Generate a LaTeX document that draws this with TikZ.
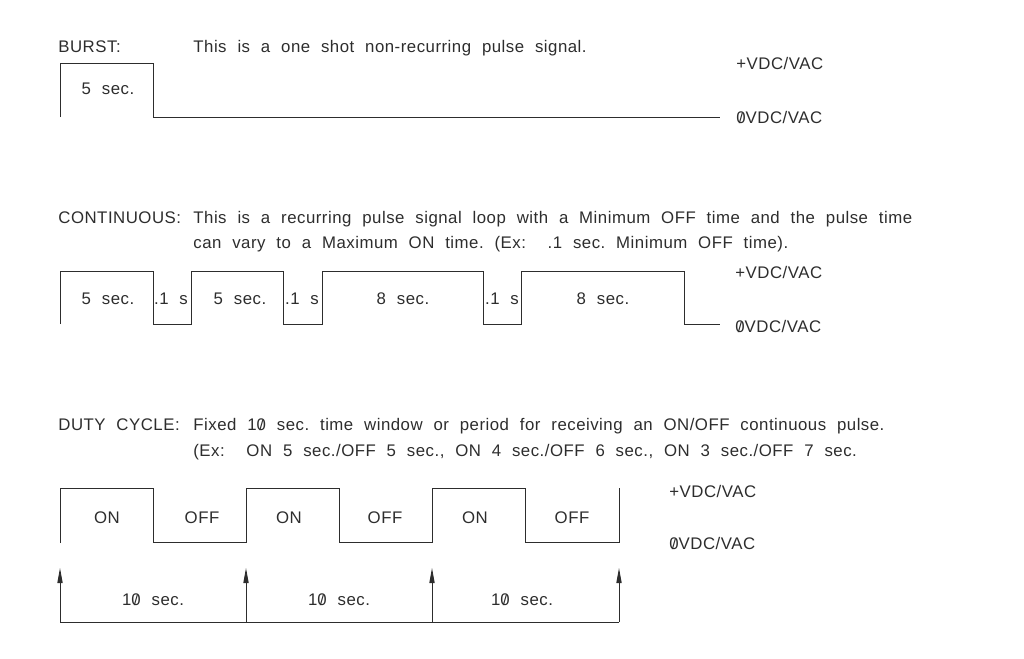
\documentclass[tikz,border=0pt]{standalone}
\usepackage{fontspec}
\setmainfont{Liberation Sans}[LetterSpace=3, WordSpace=2.1]
\usepackage{xcolor}
\usepackage{tikz}
\usetikzlibrary{arrows.meta}
\definecolor{ink}{RGB}{45, 45, 45}
\newcommand{\zr}{\ooalign{0\cr\hidewidth\scalebox{0.9}[0.85]{/}\hidewidth\cr}}
\frenchspacing

\begin{document}
\begin{tikzpicture}[x=0.5pt, y=-0.5pt, >={Triangle[length=7.5pt, width=2.6pt]},
    every node/.style={ink, font=\fontsize{8.4}{9}\selectfont, inner sep=0pt, text height=6pt, text depth=0pt},
    txt/.style={anchor=west},
    wave/.style={ink, line width=0.45pt}]
  \useasboundingbox (0,0) rectangle (1024,659);

  % Burst
  \node[txt] (bursthead) at (58,46) {BURST:};
  \node[txt] (burstnote) at (193,46) {This is a one shot non-recurring pulse signal.};
  \draw[wave] (60,117) -- (60,63) -- (153,63) -- (153,117) -- (720,117);
  \node (burston) at (108,88) {5 sec.};
  \node[txt] (bursthigh) at (736,63) {+VDC/VAC};
  \node[txt] (burstlow) at (736,117) {\zr VDC/VAC};

  % Continuous
  \node[txt] (conthead) at (58,217) {CONTINUOUS:};
  \node[txt] (contnote) at (193,217) {This is a recurring pulse signal loop with a Minimum OFF time and the pulse time};
  \node[txt] (contnotetwo) at (193,242) {can vary to a Maximum ON time. (Ex:~~.1 sec. Minimum OFF time).};
  \draw[wave] (60,324) -- (60,271) -- (153,271) -- (153,324) -- (191,324) -- (191,271)
    -- (283,271) -- (283,324) -- (322,324) -- (322,271) -- (483,271) -- (483,324)
    -- (521,324) -- (521,271) -- (684,271) -- (684,324) -- (720,324);
  \node (conton) at (108,298) {5 sec.};
  \node (contoff) at (171,298) {.1 s};
  \node (contontwo) at (240,298) {5 sec.};
  \node (contofftwo) at (302,298) {.1 s};
  \node (contonthree) at (403,298) {8 sec.};
  \node (contoffthree) at (502,298) {.1 s};
  \node (contonfour) at (603,298) {8 sec.};
  \node[txt] (conthigh) at (735,272) {+VDC/VAC};
  \node[txt] (contlow) at (735,326) {\zr VDC/VAC};

  % Duty cycle
  \node[txt] (dutyhead) at (58,424) {DUTY CYCLE:};
  \node[txt] (dutynote) at (193,424) {Fixed 1\zr{} sec. time window or period for receiving an ON/OFF continuous pulse.};
  \node[txt] (dutynotetwo) at (193,450) {(Ex:~~ON 5 sec./OFF 5 sec., ON 4 sec./OFF 6 sec., ON 3 sec./OFF 7 sec.};
  \draw[wave] (60,543) -- (60,488) -- (153,488) -- (153,542) -- (246,542) -- (246,488)
    -- (339,488) -- (339,542) -- (432,542) -- (432,488) -- (525,488) -- (525,542)
    -- (619,542) -- (619,488);
  \node (dutyon) at (107,517) {ON};
  \node (dutyoff) at (202,517) {OFF};
  \node (dutyontwo) at (289,517) {ON};
  \node (dutyofftwo) at (385,517) {OFF};
  \node (dutyonthree) at (475,517) {ON};
  \node (dutyoffthree) at (572,517) {OFF};
  \node[txt] (dutyhigh) at (669,491) {+VDC/VAC};
  \node[txt] (dutylow) at (669,543) {\zr VDC/VAC};

  % Period markers
  \draw[wave] (60,622) -- (619,622);
  \draw[wave, ->] (60,622) -- (60,568);
  \draw[wave, ->] (246,622) -- (246,568);
  \draw[wave, ->] (432,622) -- (432,568);
  \draw[wave, ->] (619,622) -- (619,568);
  \node (periodone) at (153,599) {1\zr{} sec.};
  \node (periodtwo) at (339,599) {1\zr{} sec.};
  \node (periodthree) at (522,599) {1\zr{} sec.};
\end{tikzpicture}
\end{document}
